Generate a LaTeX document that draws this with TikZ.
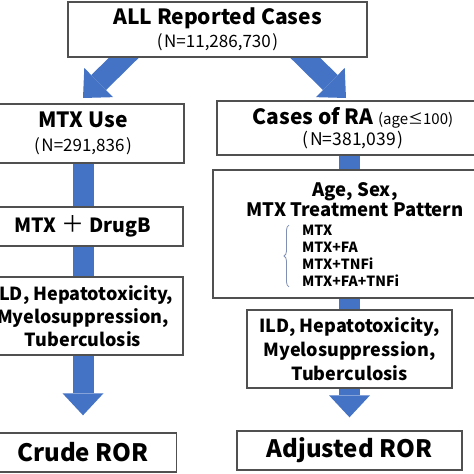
\documentclass[tikz,border=0pt]{standalone}
\usepackage{fontspec}
\setmainfont{Noto Sans CJK JP}
\usetikzlibrary{arrows.meta,positioning,backgrounds,decorations.pathreplacing}
\definecolor{barblue}{HTML}{4472C4}
\definecolor{boxline}{HTML}{505050}
\definecolor{bracegray}{HTML}{8090B4}
\newcommand{\sizept}[2]{\fontsize{#1}{#2}\selectfont}
\newcommand{\countline}[2]{{\mdseries\sizept{#1}{23}(\kern1.5pt #2\kern1.5pt)}}
\tikzset{
  flowbox/.style={
    draw=boxline,
    line width=1.4pt,
    fill=white,
    align=center,
    inner sep=0pt
  },
  bluebar/.style={draw=barblue,line width=21pt},
  bluearrow/.style={bluebar,-{Triangle[length=22pt,width=41pt,line width=0pt]}}
}
\begin{document}
\begin{tikzpicture}[x=1pt,y=-1pt]
  \useasboundingbox (0,0) rectangle (474,474);
  \clip (0,0) rectangle (474,474);

  % top
  \node[flowbox,minimum width=299pt,minimum height=55pt,font=\bfseries\sizept{21}{23}] (allcases) at (217.5,29.5) {
    ALL Reported Cases\\
    \countline{17}{N=11,286,730}};

  % left column
  \node[flowbox,minimum width=202pt,minimum height=59pt,font=\bfseries\sizept{21}{24}] (mtxuse) at (83,133.5) {
    MTX Use\\
    \countline{17}{N=291,836}};
  \node[flowbox,minimum width=200pt,minimum height=39pt,font=\bfseries\sizept{19.5}{24}] (drugb) at (83,226.5) {
    MTX\hspace{5pt}{\mdseries\sizept{23}{24}＋}\hspace{5pt}DrugB};
  \node[flowbox,minimum width=200pt,minimum height=78pt,font=\bfseries\sizept{18}{23}] (eventsleft) at (83,316) {
    ILD, Hepatotoxicity,\\
    Myelosuppression,\\
    Tuberculosis};
  \node[flowbox,minimum width=187pt,minimum height=39pt,font=\bfseries\sizept{24}{26}] (crude) at (83,452.5) {
    Crude ROR};

  % right column
  \node[flowbox,minimum width=272pt,minimum height=54pt,font=\bfseries\sizept{21}{21}] (racases) at (353,128) {
    Cases of RA {\mdseries\sizept{15}{21}(age≤100)}\\
    \countline{17.5}{N=381,039}};
  \node[flowbox,minimum width=284pt,minimum height=128pt] (patternbox) at (355,234) {};
  \node[align=center,inner sep=0pt,font=\bfseries\sizept{18.5}{20}] (patternhead) at (355,200) {
    Age, Sex,\\
    MTX Treatment Pattern};
  \node[align=left,inner sep=0pt,anchor=west,font=\bfseries\sizept{14}{17}] (patternlist) at (302,256) {
    MTX\\
    MTX+FA\\
    MTX+TNFi\\
    MTX+FA+TNFi};
  \node[flowbox,minimum width=205pt,minimum height=78pt,font=\bfseries\sizept{18}{24}] (eventsright) at (349.5,349) {
    ILD, Hepatotoxicity,\\
    Myelosuppression,\\
    Tuberculosis};
  \node[flowbox,minimum width=225pt,minimum height=39pt,font=\bfseries\sizept{24}{26}] (adjusted) at (349.5,450.5) {
    Adjusted ROR};

  \coordinate (tipleft) at (83,98);
  \coordinate (tipright) at (346,98);

  \draw[bracegray,line width=0.8pt,decorate,decoration={brace,amplitude=5pt}]
    ([xshift=-13pt]patternlist.south west) -- ([xshift=-13pt]patternlist.north west);

  \begin{pgfonlayer}{background}
    \draw[bluearrow] ([xshift=-85.5pt,yshift=8pt]allcases.south) -- (tipleft);
    \draw[bluearrow] ([xshift=79.5pt,yshift=8pt]allcases.south) -- (tipright);
    \draw[bluebar] (mtxuse.south) -- (drugb.north);
    \draw[bluebar] (drugb.south) -- (eventsleft.north);
    \draw[bluearrow,shorten >=17pt] (eventsleft.south) -- (crude.north);
    \draw[bluebar] (racases.south -| eventsright) -- (patternbox.north -| eventsright);
    \draw[bluebar] (patternbox.south -| eventsright) -- (eventsright.north);
    \draw[bluearrow,shorten >=13pt] (eventsright.south) -- (adjusted.north);
  \end{pgfonlayer}
\end{tikzpicture}
\end{document}
